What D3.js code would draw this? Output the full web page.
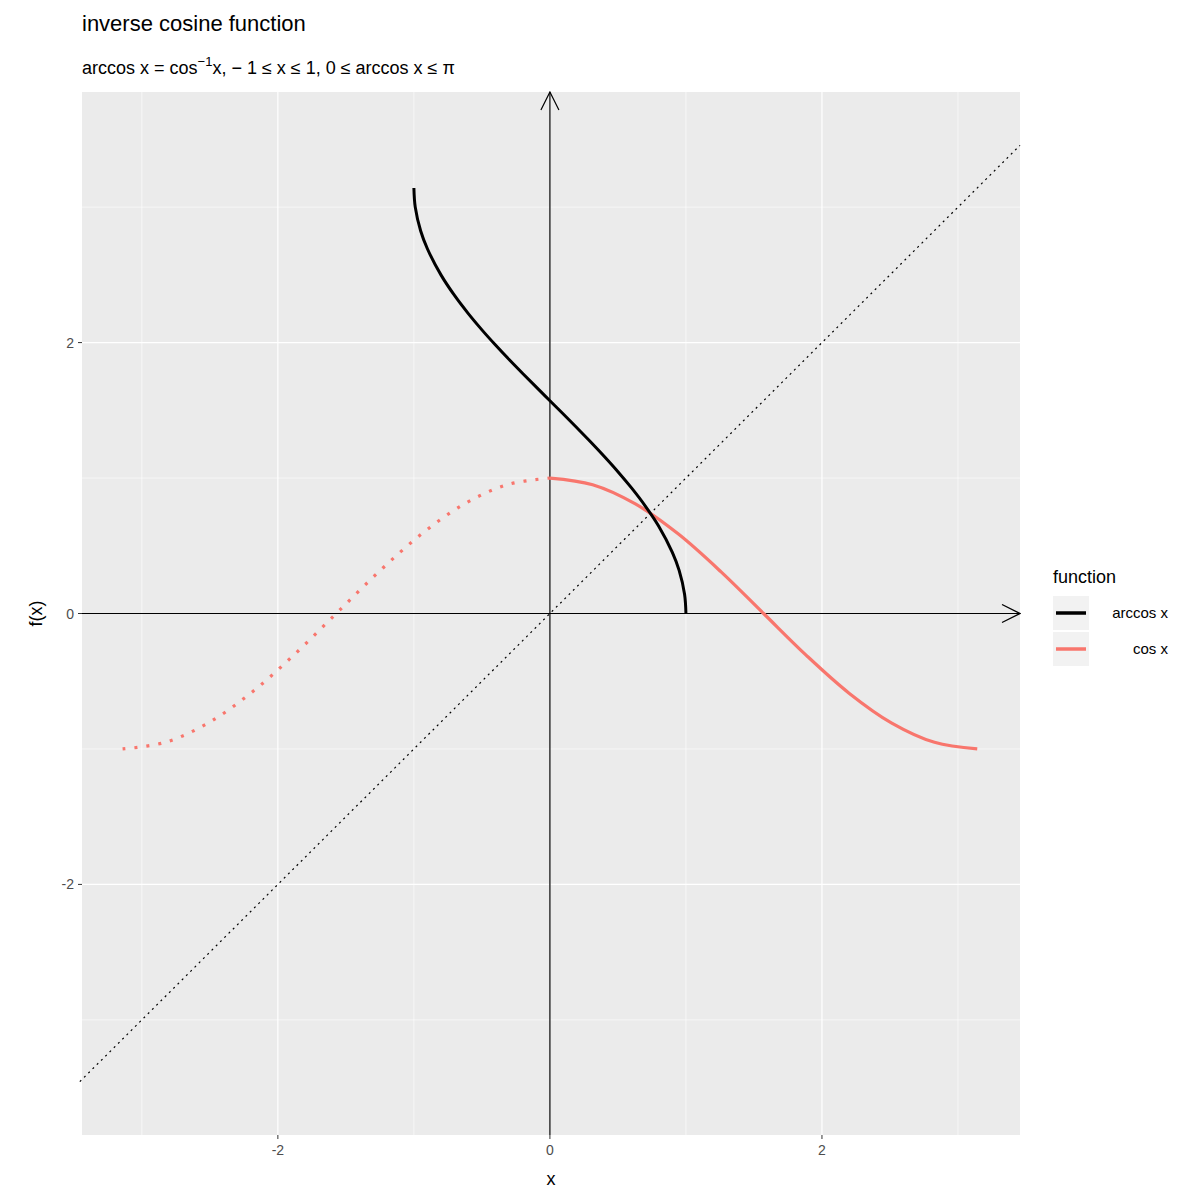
<!DOCTYPE html>
<html><head><meta charset="utf-8">
<script src="https://cdn.jsdelivr.net/npm/d3@7"></script>
<style>body{margin:0;background:#fff}text{font-family:"Liberation Sans",Arial,sans-serif}</style>
</head><body><svg id="c" width="1200" height="1200"></svg>
<script>
const cosX=[-3.1416,-2.8274,-2.5133,-2.1991,-1.885,-1.5708,-1.2566,-0.9425,-0.6283,-0.3142,0,0.3142,0.6283,0.9425,1.2566,1.5708,1.885,2.1991,2.5133,2.8274,3.1416];
const cosY=[-1,-0.951,-0.809,-0.588,-0.309,0,0.309,0.588,0.809,0.951,1,0.951,0.809,0.588,0.309,0,-0.309,-0.588,-0.809,-0.951,-1];
const acosX=[-1,-0.99,-0.95,-0.9,-0.8,-0.7,-0.6,-0.5,-0.4,-0.3,-0.2,-0.1,0,0.1,0.2,0.3,0.4,0.5,0.6,0.7,0.8,0.9,0.95,0.99,1];
const acosY=[3.1416,3.0,2.824,2.691,2.498,2.346,2.214,2.094,1.982,1.875,1.772,1.671,1.571,1.471,1.369,1.266,1.159,1.047,0.927,0.795,0.644,0.451,0.318,0.142,0];
const identX=[-3.456,3.456];
const majorTicks=[-2,0,2], minorTicks=[-3,-1,1,3];
const svg=d3.select("#c");
const L=82,R=1020,T=92,B=1135;
const x=d3.scaleLinear().domain([-3.44,3.456]).range([L,R]);
const y=d3.scaleLinear().domain([-3.85,3.85]).range([B,T]);
svg.append("rect").attr("x",L).attr("y",T).attr("width",R-L).attr("height",B-T).attr("fill","#EBEBEB");
minorTicks.forEach(t=>{
 svg.append("line").attr("x1",x(t)).attr("x2",x(t)).attr("y1",T).attr("y2",B).attr("stroke","#fff").attr("stroke-width",0.6);
 svg.append("line").attr("y1",y(t)).attr("y2",y(t)).attr("x1",L).attr("x2",R).attr("stroke","#fff").attr("stroke-width",0.6);});
majorTicks.forEach(t=>{
 svg.append("line").attr("x1",x(t)).attr("x2",x(t)).attr("y1",T).attr("y2",B).attr("stroke","#fff").attr("stroke-width",1.2);
 svg.append("line").attr("y1",y(t)).attr("y2",y(t)).attr("x1",L).attr("x2",R).attr("stroke","#fff").attr("stroke-width",1.2);});
// identity line
svg.append("line").attr("x1",x(identX[0])).attr("y1",y(identX[0])).attr("x2",x(identX[1])).attr("y2",y(identX[1]))
 .attr("stroke","#000").attr("stroke-width",1.2).attr("stroke-dasharray","2,4");
// axes with arrows
const defs=svg.append("defs");
defs.append("marker").attr("id","ar").attr("viewBox","0 0 20 20").attr("refX",19).attr("refY",10).attr("markerWidth",20).attr("markerHeight",20).attr("markerUnits","userSpaceOnUse").attr("orient","auto")
 .append("path").attr("d","M1,1L19,10L1,19").attr("fill","none").attr("stroke","#000").attr("stroke-width",1.2);
svg.append("line").attr("x1",x(0)).attr("x2",x(0)).attr("y1",B).attr("y2",T).attr("stroke","#000").attr("stroke-width",1.2).attr("marker-end","url(#ar)");
svg.append("line").attr("x1",L).attr("x2",R).attr("y1",y(0)).attr("y2",y(0)).attr("stroke","#000").attr("stroke-width",1.2).attr("marker-end","url(#ar)");
const line=d3.line().x(d=>x(d[0])).y(d=>y(d[1])).curve(d3.curveCatmullRom);
const cosPts=cosX.map((v,i)=>[v,cosY[i]]);
svg.append("path").attr("d",line(cosPts.filter(d=>d[0]<=0))).attr("fill","none").attr("stroke","#F8766D").attr("stroke-width",3.2).attr("stroke-dasharray","3,9");
svg.append("path").attr("d",line(cosPts.filter(d=>d[0]>=0))).attr("fill","none").attr("stroke","#F8766D").attr("stroke-width",3.2);
svg.append("path").attr("d",line(acosX.map((v,i)=>[v,acosY[i]]))).attr("fill","none").attr("stroke","#000").attr("stroke-width",3);
// ticks
majorTicks.forEach(t=>{
 svg.append("line").attr("x1",x(t)).attr("x2",x(t)).attr("y1",B).attr("y2",B+4).attr("stroke","#333");
 svg.append("text").attr("x",x(t)).attr("y",B+20).attr("text-anchor","middle").attr("font-size",14).attr("fill","#4D4D4D").text(t);
 svg.append("line").attr("x1",L-4).attr("x2",L).attr("y1",y(t)).attr("y2",y(t)).attr("stroke","#333");
 svg.append("text").attr("x",L-8).attr("y",y(t)+5).attr("text-anchor","end").attr("font-size",14).attr("fill","#4D4D4D").text(t);});
svg.append("text").attr("x",(L+R)/2).attr("y",1185).attr("text-anchor","middle").attr("font-size",18).text("x");
svg.append("text").attr("transform",`translate(42,${(T+B)/2}) rotate(-90)`).attr("text-anchor","middle").attr("font-size",18).text("f(x)");
svg.append("text").attr("x",L).attr("y",31).attr("font-size",22).text("inverse cosine function");
const st=svg.append("text").attr("x",L).attr("y",74).attr("font-size",18);
st.append("tspan").text("arccos x = cos");
st.append("tspan").attr("dy",-8).attr("font-size",13).text("−1");
st.append("tspan").attr("dy",8).text("x, − 1 ≤ x ≤ 1, 0 ≤ arccos x ≤ π");
// legend
svg.append("text").attr("x",1053).attr("y",583).attr("font-size",18).text("function");
const leg=[["arccos x","#000"],["cos x","#F8766D"]];
leg.forEach((d,i)=>{const cy=613+i*36;
 svg.append("rect").attr("x",1053).attr("y",cy-17).attr("width",36).attr("height",34).attr("fill","#F2F2F2");
 svg.append("line").attr("x1",1056).attr("x2",1086).attr("y1",cy).attr("y2",cy).attr("stroke",d[1]).attr("stroke-width",3.5);
 svg.append("text").attr("x",1168).attr("y",cy+5).attr("text-anchor","end").attr("font-size",15).text(d[0]);});
</script></body></html>
